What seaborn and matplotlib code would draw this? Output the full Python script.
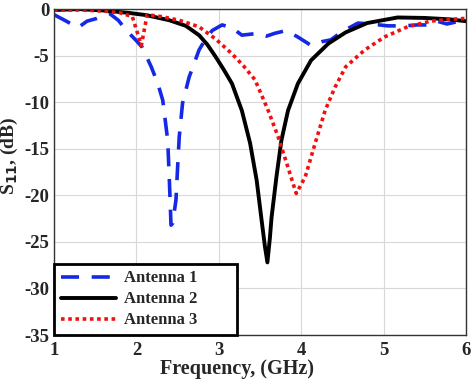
import pandas as pd
import matplotlib.pyplot as plt
import seaborn as sns

# Antenna 1 (blue dashed)
freq_a1 = [1.0, 1.15, 1.29, 1.4, 1.52, 1.67, 1.78, 1.88, 2.0, 2.07, 2.18, 2.26, 2.32, 2.38, 2.4, 2.42,
           2.44, 2.48, 2.5, 2.52, 2.56, 2.64, 2.76, 2.84, 2.92, 3.04, 3.16, 3.28, 3.48, 3.58, 3.68, 3.82,
           3.96, 4.12, 4.25, 4.36, 4.5, 4.69, 4.85, 5.05, 5.25, 5.41, 5.55, 5.65, 5.77, 5.87, 6.0]
s11_a1 = [-0.6, -1.3, -2.0, -1.3, -1.0, -0.45, -1.2, -2.3, -3.4, -4.1, -6.2, -8.0, -9.8, -14.1, -18.4, -23.2,
          -23.0, -20.5, -17.0, -13.7, -10.1, -7.3, -4.4, -3.2, -2.3, -1.7, -2.0, -2.8, -2.6, -2.9, -2.6, -2.3,
          -3.0, -3.9, -3.5, -3.3, -2.4, -1.5, -1.6, -1.8, -1.8, -1.7, -1.7, -1.3, -1.6, -1.4, -1.2]

# Antenna 2 (black solid)
freq_a2 = [1.0, 1.3, 1.6, 1.9, 2.12, 2.4, 2.6, 2.76, 2.86, 2.96, 3.06, 3.16, 3.28, 3.38, 3.46, 3.52,
           3.56, 3.59, 3.62, 3.64, 3.7, 3.76, 3.84, 3.96, 4.12, 4.33, 4.54, 4.8, 5.17, 5.5, 5.8, 6.0]
s11_a2 = [-0.1, 0.0, -0.15, -0.4, -0.65, -1.2, -1.8, -2.8, -3.8, -5.1, -6.5, -8.0, -10.9, -14.4, -18.4, -22.7,
          -25.5, -27.2, -24.6, -22.4, -18.0, -14.1, -10.9, -8.0, -5.5, -3.7, -2.5, -1.5, -0.9, -0.95, -1.1, -1.3]

# Antenna 3 (red dotted)
freq_a3 = [1.0, 1.3, 1.6, 1.8, 1.95, 2.06, 2.13, 2.3, 2.52, 2.76, 2.96, 3.16, 3.3, 3.44, 3.6, 3.72,
           3.84, 3.94, 4.05, 4.17, 4.29, 4.41, 4.54, 4.77, 5.01, 5.29, 5.57, 5.8, 6.0]
s11_a3 = [-0.1, -0.1, -0.2, -0.4, -0.8, -3.9, -0.6, -0.8, -1.2, -1.9, -3.2, -4.8, -6.1, -7.6, -10.9, -13.7,
          -17.0, -19.8, -18.0, -14.4, -10.9, -8.4, -6.2, -4.4, -3.0, -1.9, -1.3, -1.1, -1.0]

labels = ['Antenna 1', 'Antenna 2', 'Antenna 3']

sns.set_style('whitegrid')
plt.rcParams['font.family'] = ['Liberation Serif', 'DejaVu Serif']
plt.rcParams['font.weight'] = 'bold'
plt.rcParams['axes.unicode_minus'] = False

fig = plt.figure(figsize=(4.74, 3.79), dpi=100)
ax = fig.add_axes([0.114, 0.116, 0.869, 0.86])

pad = ' ' * 8
sns.lineplot(x=freq_a1, y=s11_a1, ax=ax, color='#1428e6', lw=2.6, label=labels[0] + pad, sort=False)
sns.lineplot(x=freq_a2, y=s11_a2, ax=ax, color='black', lw=2.8, label=labels[1] + pad, sort=False)
sns.lineplot(x=freq_a3, y=s11_a3, ax=ax, color='#f01010', lw=2.6, label=labels[2] + pad, sort=False)
ax.lines[0].set_dashes((5, 3.5))
ax.lines[2].set_dashes((1, 1))

ax.set_xlim(1, 6)
ax.set_ylim(-35, 0)
ax.set_xticks([1, 2, 3, 4, 5, 6])
ax.set_yticks([0, -5, -10, -15, -20, -25, -30, -35])
ax.grid(True, color='#d8d8d8', lw=0.8)
for sp in ax.spines.values():
    sp.set_color('#333333')
    sp.set_linewidth(1.0)
ax.tick_params(axis='both', labelsize=13.5, direction='in', length=3, color='#333333')
ax.tick_params(axis='x', pad=5)
for lab in ax.get_xticklabels() + ax.get_yticklabels():
    lab.set_fontweight('bold')

ax.set_xlabel('Frequency, (GHz)', fontsize=14.5, fontweight='bold')
ax.set_ylabel('S$_{\\mathbf{11}}$, (dB)', fontsize=14, fontweight='bold')
ax.xaxis.set_label_coords(0.444, -0.072)
ax.yaxis.set_label_coords(-0.083, 0.55)

leg = ax.legend(loc='lower left', bbox_to_anchor=(0.0, 0.0), fontsize=12, frameon=True,
                fancybox=False, handlelength=3.3, handletextpad=0.5, borderpad=0.4,
                labelspacing=0.3, borderaxespad=0.0)
leg.get_frame().set_edgecolor('black')
leg.get_frame().set_linewidth(2.0)
leg.get_frame().set_alpha(1.0)
for t in leg.get_texts():
    t.set_fontweight('bold')

plt.savefig('out.png', dpi=100)
plt.close()
